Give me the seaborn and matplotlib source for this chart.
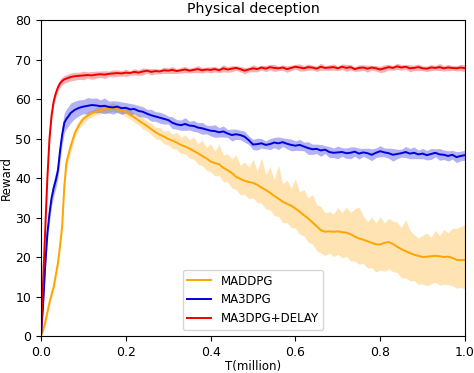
import numpy as np
import pandas as pd
import matplotlib
matplotlib.use('Agg')
import matplotlib.pyplot as plt
import seaborn as sns

# x grid (million steps): fine at the start, then every 0.01
T = [0, 0.005, 0.01, 0.015, 0.02, 0.025, 0.03, 0.035, 0.04, 0.045, 0.05, 0.055, 0.06, 0.065, 0.07] + \
    [round(0.08 + 0.01 * i, 2) for i in range(93)]

# MA3DPG+DELAY
red_mean = [0, 14, 27, 40, 50, 56, 59.5, 61.5, 63, 64, 64.6, 65, 65.2, 65.4, 65.6,
            65.8, 65.9, 66.0, 66.1, 66.0, 66.2, 66.3, 66.2, 66.4, 66.5,
            66.6, 66.5, 66.7, 66.6, 66.9, 66.7, 67.0, 67.2, 66.9, 67.1,
            67.0, 67.3, 67.2, 67.4, 67.1, 67.3, 67.5, 67.2, 67.4, 67.6,
            67.3, 67.5, 67.4, 67.6, 67.3, 67.8, 67.5, 67.7, 67.9, 67.6,
            67.2, 67.5, 67.8, 67.6, 68.0, 67.7, 68.1, 67.9, 67.8, 68.0,
            67.6, 67.9, 68.2, 68.0, 67.8, 68.1, 68.0, 67.7, 68.2, 67.9,
            68.0, 68.1, 67.8, 68.2, 67.9, 68.1, 67.6, 67.9, 68.0, 67.7,
            68.0, 67.8, 67.5, 67.8, 68.1, 67.9, 68.3, 68.0, 68.2, 67.8,
            67.9, 68.1, 67.8, 67.7, 68.0, 67.9, 68.1, 67.8, 68.0, 67.9,
            67.8, 68.0, 67.8]
red_spread = [0, 0.5, 1, 1.5, 1.5, 1.5, 1.2, 1, 1, 1, 1, 1, 1, 1, 1,
              1.0, 0.9, 1.1, 0.8, 1.0, 0.9, 0.8, 1.0, 0.7, 0.9,
              0.8, 0.7, 0.9, 0.6, 0.8, 0.7, 0.9, 0.6, 0.8, 0.7,
              0.6, 0.8, 0.7, 0.9, 0.6, 0.7, 0.8, 0.6, 0.7, 0.9,
              0.7, 0.6, 0.8, 0.7, 0.6, 0.9, 0.7, 0.8, 0.6, 0.7,
              0.8, 0.6, 0.9, 0.7, 0.6, 0.8, 0.7, 0.9, 0.6, 0.7,
              0.8, 0.7, 0.6, 0.9, 0.7, 0.8, 0.6, 0.7, 0.9, 0.6,
              0.7, 0.8, 0.6, 0.7, 0.9, 0.7, 0.6, 0.8, 0.7, 0.9,
              0.6, 0.7, 0.8, 0.9, 0.7, 0.6, 0.8, 0.7, 0.6, 0.9,
              0.7, 0.8, 0.6, 0.7, 0.8, 0.6, 0.9, 0.7, 0.8, 0.6,
              0.7, 0.8, 0.9]

# MA3DPG
blue_mean = [0, 8, 18, 26, 31, 35, 37.5, 39.5, 42, 47, 51, 54, 55, 55.7, 56.5,
             57.3, 57.8, 58.1, 58.3, 58.5, 58.4, 58.2, 58.3, 58.0, 57.9,
             58.1, 57.7, 57.8, 57.4, 57.5, 57.0, 56.8, 56.3, 55.9, 55.6,
             55.3, 55.0, 54.7, 54.0, 53.6, 53.4, 53.7, 53.3, 53.2, 52.8,
             52.6, 52.3, 52.0, 51.9, 51.6, 51.8, 51.3, 50.9, 51.1, 50.9,
             50.5, 49.6, 48.5, 48.6, 48.8, 48.4, 48.6, 49.0, 48.8, 49.1,
             48.7, 48.4, 48.2, 48.4, 48.0, 47.6, 47.3, 47.4, 47.0, 47.2,
             46.6, 46.4, 46.5, 46.6, 46.3, 46.4, 46.7, 46.2, 46.5, 46.3,
             45.9, 46.4, 46.8, 46.5, 46.3, 45.9, 46.1, 46.3, 46.6, 46.2,
             46.4, 46.0, 46.2, 45.8, 46.1, 46.4, 46.0, 45.9, 45.6, 45.9,
             45.3, 45.6, 45.8]
blue_spread = [0, 1, 1.5, 2, 2, 2, 2, 2, 2, 2.5, 2.5, 2.5, 2.5, 2.5, 2.5,
               2.2, 2.0, 1.8, 2.1, 1.7, 1.9, 1.6, 2.0, 1.5, 1.7,
               1.4, 1.6, 1.3, 1.5, 1.2, 1.4, 1.3, 1.1, 1.5, 1.2,
               1.4, 1.3, 1.0, 1.5, 1.2, 1.3, 1.6, 1.1, 1.4, 1.2,
               1.5, 1.1, 1.3, 1.6, 1.2, 1.4, 1.0, 1.5, 1.3, 1.2,
               1.4, 1.1, 1.3, 1.5, 1.2, 1.0, 1.4, 1.3, 1.6, 1.1,
               1.3, 1.5, 1.2, 1.4, 1.1, 1.6, 1.3, 1.2, 1.5, 1.0,
               1.4, 1.2, 1.6, 1.1, 1.3, 1.5, 1.2, 1.4, 1.0, 1.3,
               1.5, 1.2, 1.4, 1.1, 1.3, 1.6, 1.2, 1.0, 1.4, 1.3,
               1.5, 1.1, 1.3, 1.2, 1.4, 1.0, 1.5, 1.2, 1.3, 1.1,
               1.4, 1.2, 1.3]

# MADDPG
orange_mean = [0, 1.5, 3.5, 6, 8.5, 10.5, 12.5, 15.5, 18.5, 23, 28, 38, 44, 46, 48,
               51.5, 53.5, 55.0, 55.8, 56.4, 56.8, 57.2, 57.5, 57.7, 57.8,
               57.4, 57.2, 56.8, 56.0, 55.4, 54.6, 53.9, 53.2, 52.4, 51.6,
               51.0, 50.5, 49.9, 49.5, 49.0, 48.4, 48.0, 47.5, 46.9, 46.3,
               45.6, 45.0, 44.2, 43.8, 43.5, 42.6, 42.0, 41.3, 40.3, 39.8,
               39.3, 39.0, 38.8, 38.3, 37.6, 37.0, 36.3, 35.5, 34.8, 34.0,
               33.5, 33.0, 32.3, 31.5, 30.6, 29.8, 28.8, 27.8, 26.8, 26.4,
               26.5, 26.4, 26.5, 26.3, 26.2, 25.8, 25.2, 24.7, 24.4, 24.0,
               23.6, 23.2, 23.2, 23.6, 23.8, 23.3, 22.6, 22.0, 21.5, 21.0,
               20.6, 20.3, 20.0, 20.1, 20.2, 20.3, 20.2, 20.0, 20.1, 19.8,
               19.3, 19.2, 19.3]
orange_down = [0, 0.5, 1, 1, 1, 1, 1, 1, 1, 1.5, 2, 2, 1.5, 1.5, 1.5,
               1.2, 1.0, 1.1, 0.9, 1.0, 0.8, 1.0, 0.9, 1.1, 0.8,
               1.0, 0.9, 1.2, 1.0, 1.3, 1.1, 1.5, 1.2, 1.4, 1.6,
               1.3, 1.8, 1.5, 2.0, 1.7, 2.2, 1.9, 2.5, 2.1, 2.8,
               2.4, 3.0, 2.6, 3.3, 2.8, 3.5, 3.0, 3.8, 3.2, 4.0,
               3.5, 4.2, 3.8, 4.5, 4.0, 4.8, 4.3, 5.0, 4.5, 5.3,
               4.8, 5.5, 5.0, 5.8, 5.2, 6.0, 5.5, 6.2, 5.8, 6.0,
               5.5, 6.3, 5.8, 6.5, 6.0, 6.8, 6.2, 6.5, 6.0, 6.8,
               6.3, 7.0, 6.5, 7.2, 6.8, 7.0, 6.5, 7.3, 6.8, 7.0,
               6.6, 7.2, 6.8, 7.4, 7.0, 6.7, 7.3, 6.9, 7.1, 7.0,
               7.2, 6.9, 7.3]
orange_up = [0, 0.5, 1, 1, 1, 1, 1, 1, 1, 1.5, 2, 2, 1.5, 1.5, 1.5,
             1.0, 1.2, 0.9, 1.1, 0.8, 1.0, 1.2, 0.9, 1.0, 1.3,
             1.1, 0.9, 1.2, 1.4, 1.0, 1.3, 1.6, 1.2, 1.5, 1.3,
             1.8, 1.4, 2.2, 1.6, 2.6, 1.9, 3.0, 2.2, 3.5, 2.4,
             4.0, 2.8, 4.5, 3.0, 5.0, 3.2, 4.2, 3.6, 5.5, 3.4,
             4.8, 3.8, 6.0, 3.5, 7.5, 4.0, 6.5, 4.2, 8.5, 4.5,
             6.0, 4.5, 7.5, 5.0, 6.5, 5.2, 7.0, 5.5, 6.0, 4.8,
             5.0, 4.5, 6.0, 5.0, 6.5, 5.5, 7.0, 8.0, 6.0, 5.0,
             6.5, 5.5, 7.0, 5.0, 6.0, 5.8, 6.2, 5.5, 8.0, 5.8,
             5.0, 4.5, 5.5, 6.0, 4.8, 6.5, 5.2, 7.0, 6.0, 7.5,
             8.0, 8.5, 9.0]

labels = ['MADDPG', 'MA3DPG', 'MA3DPG+DELAY']
colors = ['orange', '#0000dd', '#ee0000']

plt.rcParams['font.size'] = 8.5

T = np.array(T)
bands = {
    'MADDPG': (np.array(orange_mean), np.array(orange_mean) - np.array(orange_down),
               np.array(orange_mean) + np.array(orange_up)),
    'MA3DPG': (np.array(blue_mean), np.array(blue_mean) - np.array(blue_spread),
               np.array(blue_mean) + np.array(blue_spread)),
    'MA3DPG+DELAY': (np.array(red_mean), np.array(red_mean) - np.array(red_spread),
                     np.array(red_mean) + np.array(red_spread)),
}

df = pd.concat([pd.DataFrame({'T': T, 'Reward': bands[k][0], 'method': k}) for k in labels],
               ignore_index=True)

fig = plt.figure(figsize=(4.74, 3.73), dpi=100)
ax = fig.add_axes([0.0865, 0.0992, 0.8945, 0.8468])

for lab, col in zip(labels, colors):
    m, lo, hi = bands[lab]
    ax.fill_between(T, lo, hi, color=col, alpha=0.3, linewidth=0)

sns.lineplot(data=df, x='T', y='Reward', hue='method', hue_order=labels,
             palette=dict(zip(labels, colors)), linewidth=1.4, ax=ax)

ax.set_xlim(0, 1.0)
ax.set_ylim(0, 80)
ax.set_xticks([0.0, 0.2, 0.4, 0.6, 0.8, 1.0])
ax.set_yticks(range(0, 81, 10))
ax.tick_params(labelsize=9)
ax.set_xlabel('T(million)', labelpad=1)
ax.set_ylabel('Reward', labelpad=2)
ax.set_title('Physical deception', pad=5)
ax.legend(loc='lower center', fontsize=8.5, title=None)

fig.savefig('out.png', dpi=100)
